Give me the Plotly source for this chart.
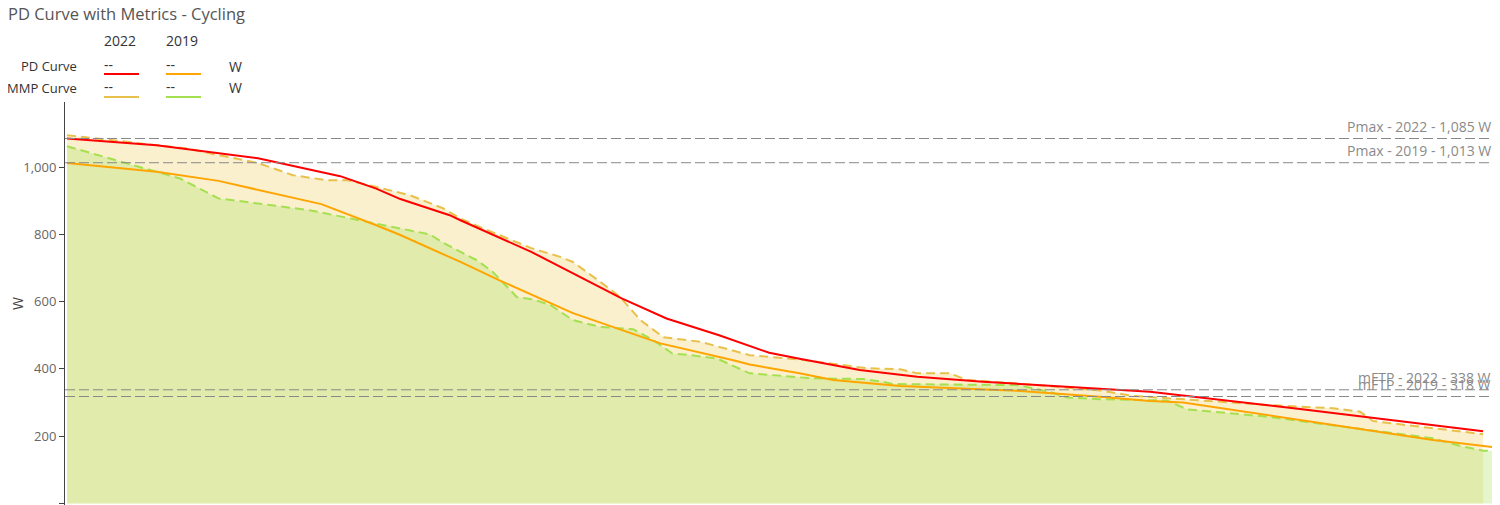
import plotly.graph_objects as go

# Durations in seconds, power in watts
pd_2022_sec = [1, 1.8, 3.5, 6, 7.6, 8.9, 12.3, 13.2, 21, 38, 51, 72, 100, 122, 181, 264, 406, 783, 1215, 3250, 10800]
pd_2022_w = [1085, 1065, 1026, 973, 936, 905, 857, 842, 748, 610, 550, 500, 448, 430, 397, 377, 362, 345, 332, 281, 215]

pd_2019_sec = [1, 1.8, 2.7, 5.3, 7.6, 8.9, 13.2, 17, 27.6, 49, 79, 88, 122, 152, 236, 508, 875, 1215, 1510, 3250, 7780, 12100]
pd_2019_w = [1012, 986, 959, 890, 827, 798, 718, 664, 566, 476, 426, 413, 387, 367, 349, 335, 317, 305, 300, 248, 189, 165]

mmp_2022_sec = [1, 1.5, 2.2, 3.5, 4.4, 5.5, 6.3, 7.6, 9.5, 11.8, 13.2, 15.3, 21, 25.4, 27.6, 33, 37.6, 43, 50, 63.5,
                88, 122, 137, 190, 236, 264, 327, 366, 508, 875, 1087, 1687, 2618, 4036, 4819, 5248, 7780, 10800]
mmp_2022_w = [1095, 1075, 1055, 1012, 976, 961, 961, 941, 916, 877, 847, 818, 759, 733, 718, 659, 614, 545, 494, 481,
              441, 428, 421, 402, 399, 387, 387, 367, 357, 336, 320, 307, 293, 283, 273, 245, 223, 206]

mmp_2019_sec = [1, 1.8, 2.1, 2.7, 3.5, 4.9, 6.8, 8.9, 10.8, 11.8, 13.2, 14.7, 16.3, 19.1, 21.2, 23.8, 27.6, 33, 41, 46.7,
                53, 59.5, 71, 88, 122, 137, 185, 211, 225, 508, 631, 705, 875, 1359, 1549, 2618, 5600, 7780, 9290, 10800, 12100]
mmp_2019_w = [1062, 986, 966, 907, 892, 872, 842, 818, 800, 775, 748, 723, 689, 614, 607, 590, 545, 525, 518, 486,
              446, 441, 431, 387, 375, 372, 370, 362, 355, 352, 332, 315, 310, 306, 280, 258, 213, 194, 171, 157, 157]

pmax = {"2022": 1085, "2019": 1013}
mftp = {"2022": 338, "2019": 318}

FONT = "Open Sans"
OFF = 8  # page body margin
W, H = 1500 - OFF, 505 - OFF
ML, MR, MT, MB = 65 - OFF, 0, 102 - OFF, 0


def px(x):
    # screenshot pixel -> paper x
    return (x - OFF - ML) / (W - ML - MR)


def py(y):
    # screenshot pixel -> paper y
    return (H - MB - (y - OFF)) / (H - MT - MB)


fig = go.Figure()

# MMP areas
fig.add_trace(go.Scatter(
    x=mmp_2022_sec, y=mmp_2022_w, mode='lines', name='MMP 2022',
    line={"color": '#e8c04c', "width": 2, "dash": '9px,5px'},
    fill='tozeroy', fillcolor='rgba(236,200,80,0.28)'
))
fig.add_trace(go.Scatter(
    x=mmp_2019_sec, y=mmp_2019_w, mode='lines', name='MMP 2019',
    line={"color": '#a4e050', "width": 2, "dash": '9px,5px'},
    fill='tozeroy', fillcolor='rgba(170,226,90,0.3)'
))

# PD curves
fig.add_trace(go.Scatter(
    x=pd_2019_sec, y=pd_2019_w, mode='lines', name='PD 2019',
    line={"color": '#ffa500', "width": 2}
))
fig.add_trace(go.Scatter(
    x=pd_2022_sec, y=pd_2022_w, mode='lines', name='PD 2022',
    line={"color": '#ff0000', "width": 2}
))

# Metric lines
for label, vals in (("Pmax", pmax), ("mFTP", mftp)):
    for year, v in vals.items():
        fig.add_shape(type='line', xref='paper', x0=0, x1=1, yref='y', y0=v, y1=v,
                      line={"color": '#888888', "width": 1, "dash": '10px,4px'})
        fig.add_annotation(xref='paper', x=px(1493), yref='y', y=v, yshift=1,
                           xanchor='right', yanchor='bottom', showarrow=False,
                           text=f"{label} - {year} - {v:,} W",
                           font={"family": FONT, "size": 14, "color": '#8a8a8a'})

# Custom legend table
hdr = {"family": FONT, "size": 14, "color": '#333333'}
lbl = {"family": FONT, "size": 13, "color": '#333333'}
for text, x in (("2022", 120), ("2019", 182)):
    fig.add_annotation(xref='paper', yref='paper', x=px(x), y=py(40), text=text,
                       showarrow=False, xanchor='center', yanchor='middle', font=hdr)

rows = [("PD Curve", 66, 74, '#ff0000', '#ffa500'),
        ("MMP Curve", 88, 97, '#e8c04c', '#a4e050')]
for name, ty, ly, c1, c2 in rows:
    fig.add_annotation(xref='paper', yref='paper', x=px(79), y=py(ty), text=name,
                       showarrow=False, xanchor='right', yanchor='middle', font=lbl)
    for x0, c in ((104, c1), (166, c2)):
        fig.add_annotation(xref='paper', yref='paper', x=px(x0 - 2), y=py(ty - 2), text="--",
                           showarrow=False, xanchor='left', yanchor='middle', font=hdr)
        fig.add_shape(type='line', xref='paper', yref='paper', x0=px(x0), x1=px(x0 + 35),
                      y0=py(ly), y1=py(ly), line={"color": c, "width": 2})
    fig.add_annotation(xref='paper', yref='paper', x=px(235), y=py(ty), text="W",
                       showarrow=False, xanchor='center', yanchor='middle', font=hdr)

fig.update_xaxes(type='log', range=[-0.0057, 4.0815], showticklabels=False, automargin=False,
                 showgrid=False, zeroline=False, showline=False, ticks='')
fig.update_yaxes(range=[-4.5, 1193.5], dtick=200, tickformat=',', showgrid=False,
                 automargin=False, zeroline=False, showline=True, linecolor='#444444', linewidth=1,
                 ticks='outside', ticklen=5, tickcolor='#444444',
                 tickfont={"family": FONT, "size": 13, "color": '#666666'},
                 title={"text": "W", "font": {"family": FONT, "size": 14, "color": '#444444'},
                        "standoff": 14})

fig.update_layout(
    width=W, height=H,
    margin={"l": ML, "r": MR, "t": MT, "b": MB, "autoexpand": False},
    paper_bgcolor='white', plot_bgcolor='white',
    showlegend=False,
    title={"text": "PD Curve with Metrics - Cycling", "x": 0, "xanchor": 'left',
           "xref": 'container', "y": 1, "yanchor": 'top', "pad": {"t": 0, "l": 0},
           "font": {"family": FONT, "size": 16.5, "color": '#555555'}},
)

fig.write_html("out.html")
